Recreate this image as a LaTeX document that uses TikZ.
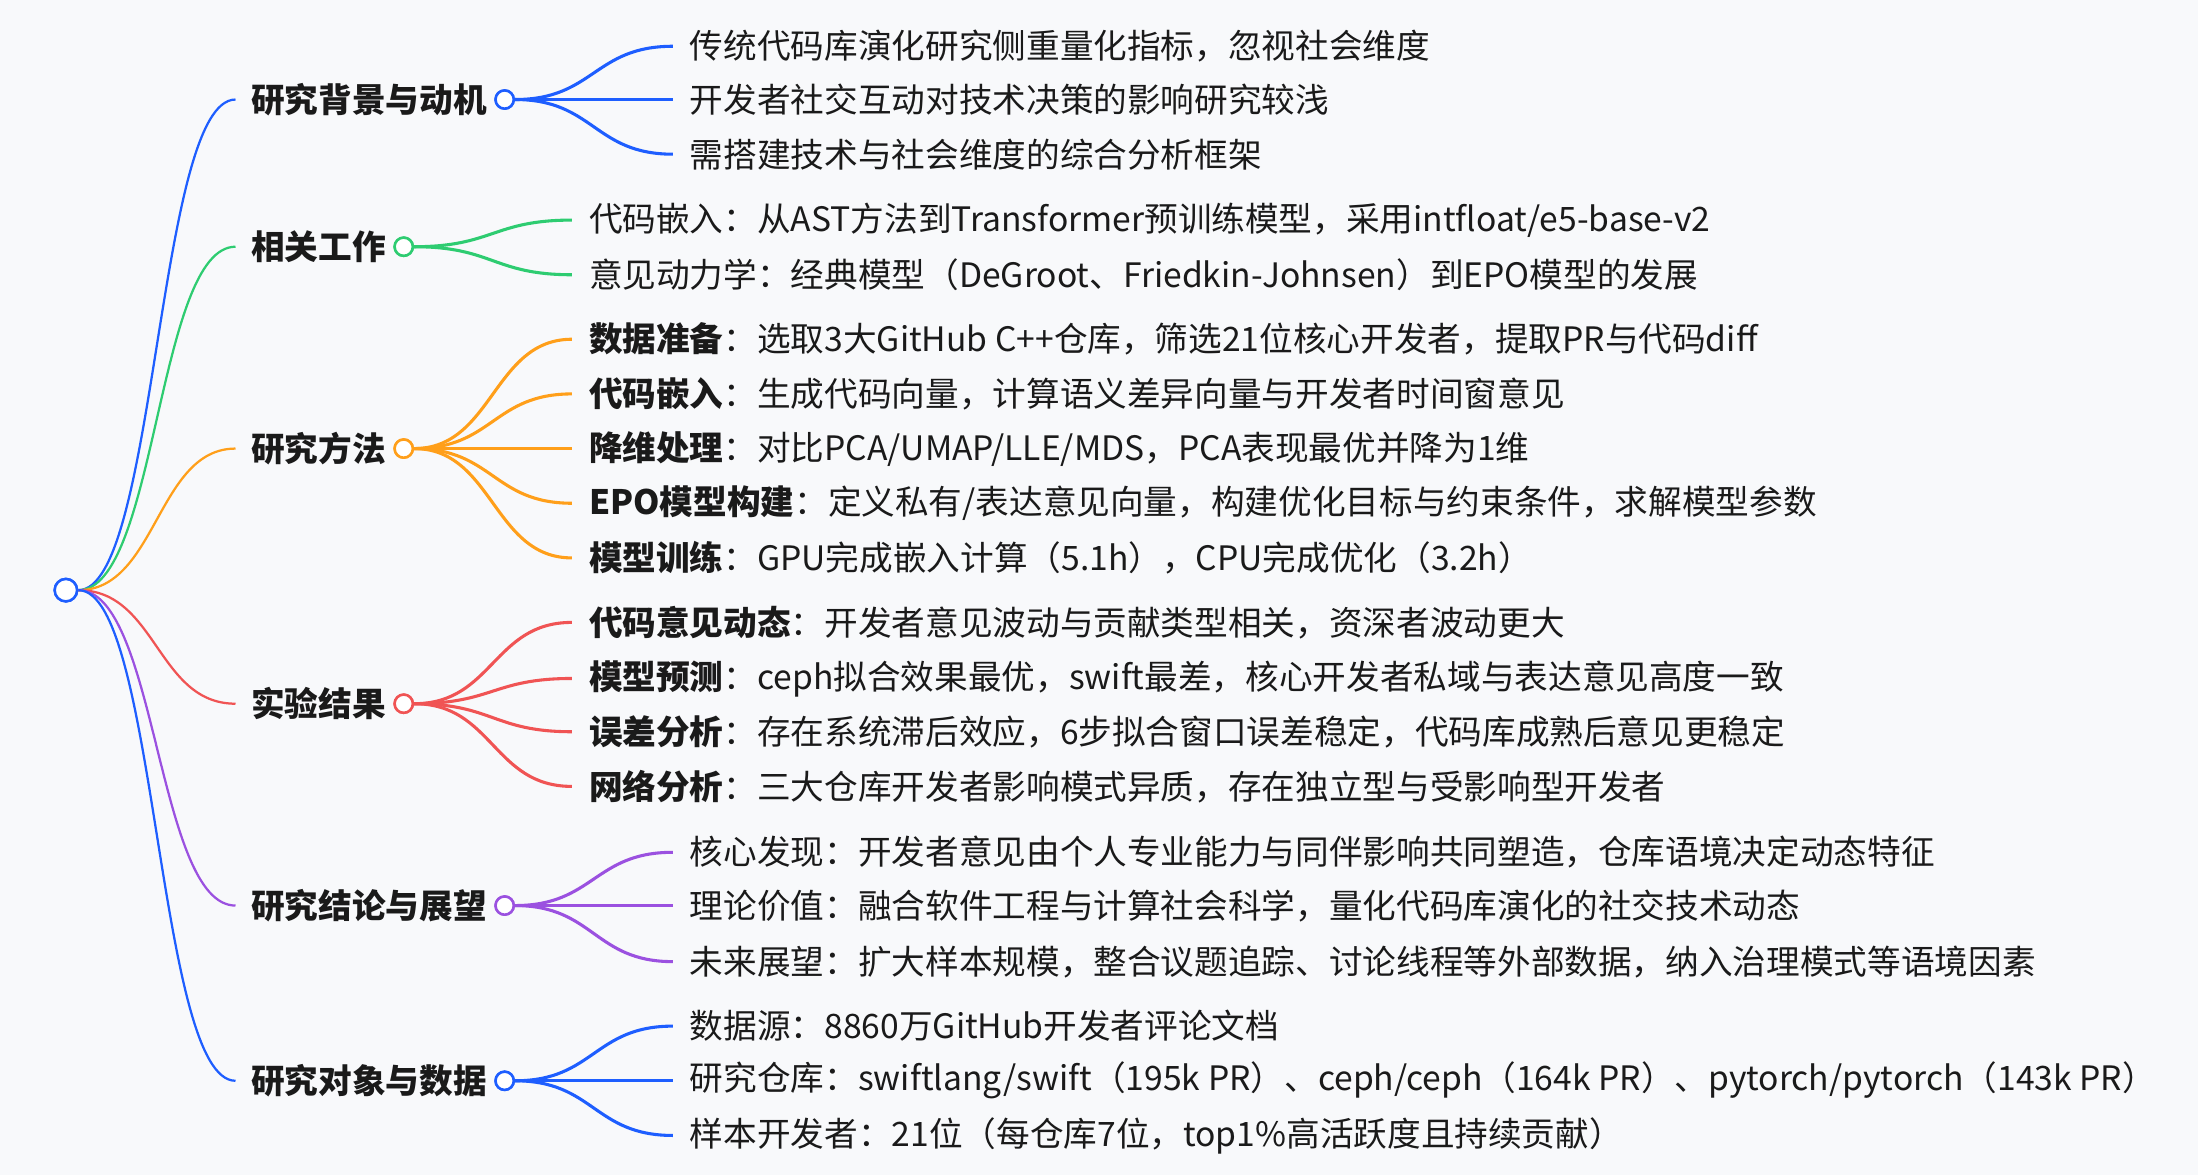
\documentclass[tikz,border=0pt]{standalone}
\usepackage{fontspec}
\setmainfont{Noto Sans CJK SC}
\usetikzlibrary{calc}
\definecolor{bgc}{HTML}{F8F9FB}
\definecolor{cblue}{HTML}{1E5EFF}
\definecolor{cgreen}{HTML}{2ECC71}
\definecolor{corange}{HTML}{FF9F1A}
\definecolor{cred}{HTML}{F05454}
\definecolor{cpurple}{HTML}{9B51E0}
\definecolor{txt}{HTML}{1A1A1A}
\tikzset{
  parent/.style={anchor=west,inner sep=0pt,font=\fontsize{24}{28}\selectfont\bfseries,text=txt},
  leaf/.style={anchor=west,inner sep=0pt,font=\fontsize{24}{28}\selectfont,text=txt},
  dot/.style={circle,draw=#1,fill=white,line width=1.8pt,minimum size=13pt,inner sep=0pt},
  rootline/.style={draw=#1,line width=1.6pt},
  kidline/.style={draw=#1,line width=2.2pt}
}
\newcommand{\curve}[4]{% color, from, to, style
  \path (#2) -- (#3) coordinate[pos=.5] (mm);
  \draw[#4=#1] (#2) .. controls (mm|-#2) and (mm|-#3) .. (#3);}
\newcommand{\kid}[5]{% name, color, dot, x, y
  \coordinate (#1s) at (#4-12,#5);
  \curve{#2}{#3.east}{#1s}{kidline}}
\begin{document}
\begin{tikzpicture}[x=1pt,y=-1pt]
\fill[bgc] (0,0) rectangle (1568,838);
\useasboundingbox (0,0) rectangle (1568,838);
\node[dot=cblue,minimum size=16pt] (root) at (47,421) {};
\newcommand{\branch}[5]{% name color y text dotx
  \node[parent] (#1) at (179,#3) {#4};
  \coordinate (#1e) at (168,#3);
  \node[dot=#2] (#1d) at (#5,#3) {};
  \curve{#2}{root.east}{#1e}{rootline}}
\branch{b1}{cblue}{71}{研究背景与动机}{360}
\branch{b2}{cgreen}{176}{相关工作}{288}
\branch{b3}{corange}{320}{研究方法}{288}
\branch{b4}{cred}{502}{实验结果}{288}
\branch{b5}{cpurple}{646}{研究结论与展望}{360}
\branch{b6}{cblue}{771}{研究对象与数据}{360}
\node[leaf] (a1) at (492,33) {传统代码库演化研究侧重量化指标，忽视社会维度};
\node[leaf] (a2) at (492,71) {开发者社交互动对技术决策的影响研究较浅};
\node[leaf] (a3) at (492,110) {需搭建技术与社会维度的综合分析框架};
\kid{a1}{cblue}{b1d}{492}{33}\kid{a2}{cblue}{b1d}{492}{71}\kid{a3}{cblue}{b1d}{492}{110}
\node[leaf] (c1) at (420,157) {代码嵌入：从AST方法到Transformer预训练模型，采用intfloat/e5-base-v2};
\node[leaf] (c2) at (420,196) {意见动力学：经典模型（DeGroot、Friedkin-Johnsen）到EPO模型的发展};
\kid{c1}{cgreen}{b2d}{420}{157}\kid{c2}{cgreen}{b2d}{420}{196}
\node[leaf] (m1) at (420,242) {\textbf{数据准备}：选取3大GitHub C++仓库，筛选21位核心开发者，提取PR与代码diff};
\node[leaf] (m2) at (420,281) {\textbf{代码嵌入}：生成代码向量，计算语义差异向量与开发者时间窗意见};
\node[leaf] (m3) at (420,320) {\textbf{降维处理}：对比PCA/UMAP/LLE/MDS，PCA表现最优并降为1维};
\node[leaf] (m4) at (420,359) {\textbf{EPO模型构建}：定义私有/表达意见向量，构建优化目标与约束条件，求解模型参数};
\node[leaf] (m5) at (420,398) {\textbf{模型训练}：GPU完成嵌入计算（5.1h），CPU完成优化（3.2h）};
\kid{m1}{corange}{b3d}{420}{242}\kid{m2}{corange}{b3d}{420}{281}\kid{m3}{corange}{b3d}{420}{320}\kid{m4}{corange}{b3d}{420}{359}\kid{m5}{corange}{b3d}{420}{398}
\node[leaf] (r1) at (420,444) {\textbf{代码意见动态}：开发者意见波动与贡献类型相关，资深者波动更大};
\node[leaf] (r2) at (420,484) {\textbf{模型预测}：ceph拟合效果最优，swift最差，核心开发者私域与表达意见高度一致};
\node[leaf] (r3) at (420,522) {\textbf{误差分析}：存在系统滞后效应，6步拟合窗口误差稳定，代码库成熟后意见更稳定};
\node[leaf] (r4) at (420,561) {\textbf{网络分析}：三大仓库开发者影响模式异质，存在独立型与受影响型开发者};
\kid{r1}{cred}{b4d}{420}{444}\kid{r2}{cred}{b4d}{420}{484}\kid{r3}{cred}{b4d}{420}{522}\kid{r4}{cred}{b4d}{420}{561}
\node[leaf] (p1) at (492,608) {核心发现：开发者意见由个人专业能力与同伴影响共同塑造，仓库语境决定动态特征};
\node[leaf] (p2) at (492,646) {理论价值：融合软件工程与计算社会科学，量化代码库演化的社交技术动态};
\node[leaf] (p3) at (492,686) {未来展望：扩大样本规模，整合议题追踪、讨论线程等外部数据，纳入治理模式等语境因素};
\kid{p1}{cpurple}{b5d}{492}{608}\kid{p2}{cpurple}{b5d}{492}{646}\kid{p3}{cpurple}{b5d}{492}{686}
\node[leaf] (d1) at (492,732) {数据源：8860万GitHub开发者评论文档};
\node[leaf] (d2) at (492,771) {研究仓库：swiftlang/swift（195k PR）、ceph/ceph（164k PR）、pytorch/pytorch（143k PR）};
\node[leaf] (d3) at (492,810) {样本开发者：21位（每仓库7位，top1\%高活跃度且持续贡献）};
\kid{d1}{cblue}{b6d}{492}{732}\kid{d2}{cblue}{b6d}{492}{771}\kid{d3}{cblue}{b6d}{492}{810}
\foreach \n/\c in {b1d/cblue,b2d/cgreen,b3d/corange,b4d/cred,b5d/cpurple,b6d/cblue}{\node[dot=\c] at (\n) {};}
\node[dot=cblue,minimum size=16pt] at (root) {};
\end{tikzpicture}
\end{document}
